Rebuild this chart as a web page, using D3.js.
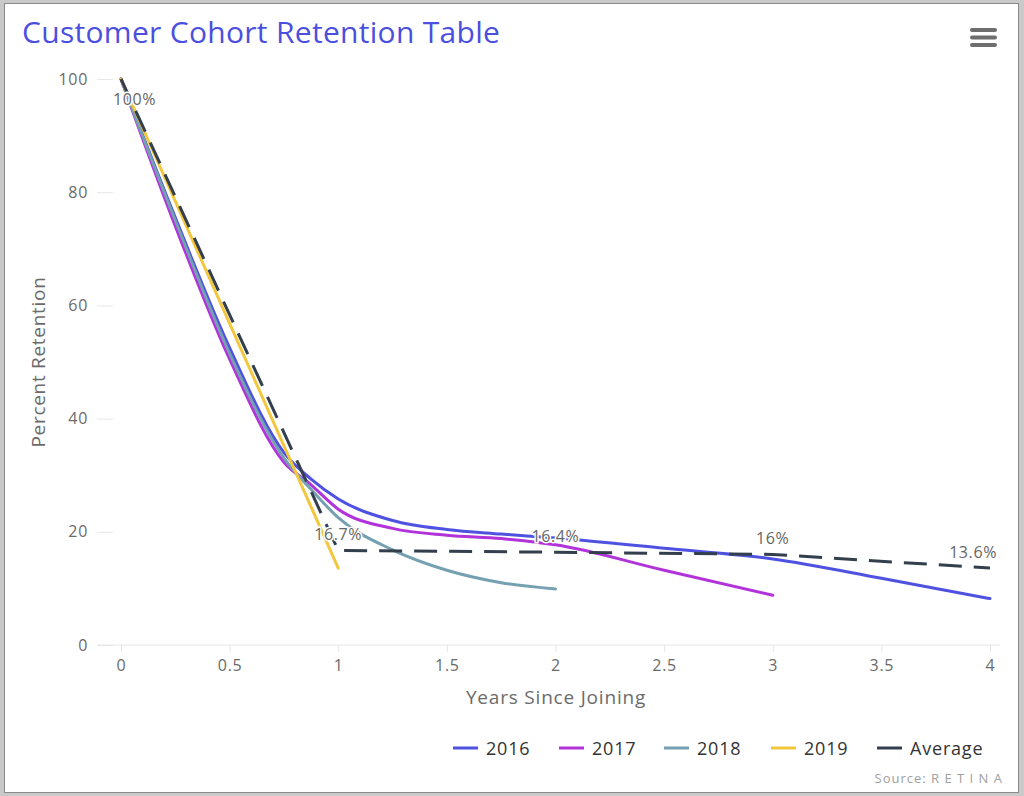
<!DOCTYPE html>
<html>
<head>
<meta charset="utf-8">
<style>
  body { margin: 0; background: #c9c9c9; font-family: "Open Sans", sans-serif; }
  .card {
    position: absolute; left: 4px; top: 3px;
    width: 1013px; height: 788px;
    background: #fff; border: 1px solid #8a8a8a;
  }
  #chart { position: absolute; left: -5px; top: -4px; }
  .axis text { font-family: "Open Sans", sans-serif; font-size: 16px; letter-spacing: 0.7px; fill: #6b6b6b; }
  .axis line { stroke: #e6e6e6; }
  .axis path { display: none; }
</style>
</head>
<body>
<div class="card"><div id="chart"></div></div>
<script src="https://cdnjs.cloudflare.com/ajax/libs/d3/7.8.5/d3.min.js"></script>
<script>
// data (percent retention by years since joining)
const cohorts = ["2016", "2017", "2018", "2019"];
const x2016 = [0, 0.25, 0.5, 0.75, 0.875, 1, 1.25, 1.5, 1.75, 2, 2.5, 3, 3.5, 4];
const y2016 = [100, 75.5, 52.5, 34, 29.3, 25.8, 22, 20.4, 19.6, 18.9, 17.1, 15.2, 11.8, 8.2];
const x2017 = [0, 0.25, 0.5, 0.75, 0.875, 1, 1.25, 1.5, 1.75, 2, 2.5, 3];
const y2017 = [100, 74, 50.5, 32.3, 28.3, 24, 20.6, 19.4, 18.8, 17.7, 13.2, 8.8];
const x2018 = [0, 0.25, 0.5, 0.75, 0.875, 1, 1.25, 1.5, 1.75, 2];
const y2018 = [100, 75, 51.5, 33, 27.5, 22.5, 16.8, 13.2, 11, 9.9];
const x2019 = [0, 1];
const y2019 = [100, 13.6];
const xAverage = [0, 1, 2, 3, 4];
const yAverage = [100, 16.7, 16.4, 16, 13.6];
const averageLabels = ["100%", "16.7%", "16.4%", "16%", "13.6%"];
const xTicks = [0, 0.5, 1, 1.5, 2, 2.5, 3, 3.5, 4];
const yTicks = [0, 20, 40, 60, 80, 100];
const colors = ["#4f52e0", "#b133d9", "#74a0b2", "#f2c73d", "#333f4d"];

const W = 1024, H = 796;
const plot = { left: 97, right: 1000, top: 79, bottom: 645 };

const svg = d3.select("#chart").append("svg")
    .attr("width", W).attr("height", H);

const x = d3.scaleLinear().domain([0, 4]).range([121, 990]);
const y = d3.scaleLinear().domain([0, 100]).range([plot.bottom, plot.top]);

// title
svg.append("text")
    .attr("x", 22).attr("y", 43)
    .style("font-size", "30px")
    .style("letter-spacing", "0.3px")
    .style("fill", "#4b4fe0")
    .text("Customer Cohort Retention Table");

// menu icon
svg.append("g").selectAll("rect")
    .data([0, 1, 2]).join("rect")
    .attr("x", 970).attr("y", d => 28 + d * 7.5)
    .attr("width", 27).attr("height", 4).attr("rx", 2)
    .attr("fill", "#6e6e6e");

// y axis (ticks only, no gridlines)
svg.append("g")
    .attr("class", "axis")
    .attr("transform", `translate(${plot.left + 16},0)`)
    .call(d3.axisLeft(y).tickValues(yTicks).tickSize(16).tickPadding(9));

// x axis
svg.append("line")
    .attr("x1", plot.left).attr("x2", plot.right)
    .attr("y1", plot.bottom).attr("y2", plot.bottom)
    .attr("stroke", "#e6e6e6");
svg.append("g")
    .attr("class", "axis")
    .attr("transform", `translate(0,${plot.bottom})`)
    .call(d3.axisBottom(x).tickValues(xTicks).tickSize(7).tickPadding(8).tickFormat(d3.format("~g")));

// axis titles
svg.append("text")
    .attr("transform", `translate(45,${(plot.top + plot.bottom) / 2}) rotate(-90)`)
    .attr("text-anchor", "middle")
    .style("font-size", "19px").style("letter-spacing", "0.7px").style("fill", "#6b6b6b")
    .text("Percent Retention");
svg.append("text")
    .attr("x", 556).attr("y", 704)
    .attr("text-anchor", "middle")
    .style("font-size", "19px").style("letter-spacing", "0.8px").style("fill", "#6b6b6b")
    .text("Years Since Joining");

// series
const series = [
    { name: cohorts[0], xs: x2016, ys: y2016 },
    { name: cohorts[1], xs: x2017, ys: y2017 },
    { name: cohorts[2], xs: x2018, ys: y2018 },
    { name: cohorts[3], xs: x2019, ys: y2019 },
];
const smooth = d3.line().x(d => x(d[0])).y(d => y(d[1])).curve(d3.curveMonotoneX);
series.forEach((s, i) => {
    svg.append("path")
        .datum(d3.zip(s.xs, s.ys))
        .attr("d", smooth)
        .attr("fill", "none")
        .attr("stroke", colors[i])
        .attr("stroke-width", 3)
        .attr("stroke-linecap", "round");
});

// average (dashed)
const straight = d3.line().x(d => x(d[0])).y(d => y(d[1]));
svg.append("path")
    .datum(d3.zip(xAverage, yAverage))
    .attr("d", straight)
    .attr("fill", "none")
    .attr("stroke", colors[4])
    .attr("stroke-width", 3)
    .attr("stroke-dasharray", "23 12");

// data labels on the average
const labels = svg.append("g").selectAll("text")
    .data(d3.zip(xAverage, yAverage, averageLabels))
    .join("text")
    .attr("text-anchor", "middle")
    .attr("x", d => x(d[0]))
    .attr("y", d => y(d[1]) - 10)
    .style("font-size", "16px")
    .style("letter-spacing", "0.6px")
    .style("fill", "#666")
    .style("stroke", "#fff").style("stroke-width", 3)
    .style("paint-order", "stroke")
    .text(d => d[2]);

// keep labels inside the plot
labels.each(function () {
    const t = d3.select(this);
    const b = this.getBBox();
    let dx = 0;
    if (b.x < plot.left + 16) dx = plot.left + 16 - b.x;
    if (b.x + b.width > plot.right - 3) dx = plot.right - 3 - (b.x + b.width);
    t.attr("x", +t.attr("x") + dx);
    if (b.y < plot.top) t.attr("y", +t.attr("y") + 36);
});

// legend
const legendNames = cohorts.concat(["Average"]);
const legendX = [453, 559, 664, 771, 877];
const legend = svg.append("g").selectAll("g")
    .data(legendNames).join("g")
    .attr("transform", (d, i) => `translate(${legendX[i]},748)`);
legend.append("rect")
    .attr("x", 0).attr("y", -1.5).attr("width", 25).attr("height", 3)
    .attr("fill", (d, i) => colors[i]);
legend.append("text")
    .attr("x", 33).attr("y", 7)
    .style("font-size", "18px").style("letter-spacing", "0.8px").style("fill", "#333")
    .text(d => d);

// source credit
svg.append("text")
    .attr("x", 1003).attr("y", 783)
    .attr("text-anchor", "end")
    .style("font-size", "13px").style("letter-spacing", "1px").style("fill", "#a0a0a0")
    .text("Source: R E T I N A");
</script>
</body>
</html>
